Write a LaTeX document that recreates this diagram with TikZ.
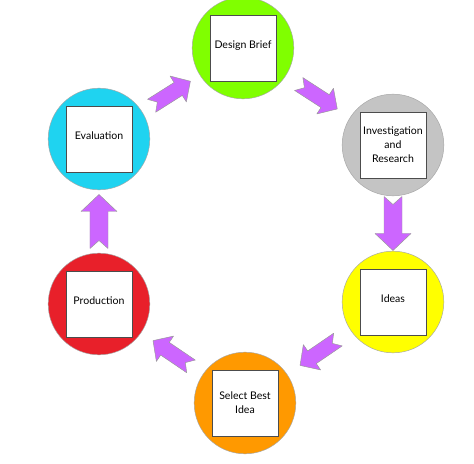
\documentclass[tikz,border=0pt]{standalone}
\usepackage{fontspec}
\setsansfont{Lato}
\usepackage{xcolor}
\usetikzlibrary{positioning, calc}

\definecolor{briefgreen}{HTML}{80FF00}
\definecolor{investgrey}{HTML}{C4C4C4}
\definecolor{ideasyellow}{HTML}{FFFF00}
\definecolor{selectorange}{HTML}{FF9900}
\definecolor{prodred}{HTML}{E8202A}
\definecolor{evalcyan}{HTML}{1FD3F0}
\definecolor{arrowpurple}{HTML}{CC66FF}

\tikzset{
    stage/.style={circle, draw=gray!70, thin, minimum size=3.05cm, inner sep=0pt},
    stagebox/.style={draw=black!70, fill=white, minimum size=1.98cm, inner sep=1pt,
        align=center, font=\sffamily\small},
    cyclearrow/.pic={
        \draw[draw=gray!80, fill=arrowpurple, line join=round]
            (-0.81,0.27) -- (0.30,0.27) -- (0.30,0.54) -- (0.81,0)
            -- (0.30,-0.54) -- (0.30,-0.27) -- (-0.81,-0.27) -- (-0.57,0) -- cycle;
    }
}

% block arrow half way between two stages
\newcommand{\cyclestep}[3][1]{%
    \path let \p1=(#2), \p2=(#3), \n1={atan2(\y2-\y1,\x2-\x1)} in
        ($(#2)!0.5!(#3)$) pic[rotate=\n1, scale=#1] {cyclearrow};}

\begin{document}
\begin{tikzpicture}[on grid]
        \useasboundingbox (0,0) rectangle (14.22,-13.92);

        \node[stage, fill=briefgreen] (brief) at (7.29,-1.44) {};
        \node[stage, fill=investgrey, below right=2.91cm and 4.5cm of brief] (invest) {};
        \node[stage, fill=ideasyellow, below=4.71cm of invest] (ideas) {};
        \node[stage, fill=selectorange, below left=3.03cm and 4.44cm of ideas] (select) {};
        \node[stage, fill=prodred, above left=2.97cm and 4.38cm of select] (prod) {};
        \node[stage, fill=evalcyan, above=4.95cm of prod] (eval) {};

        \node[stagebox] (briefbox) at (brief) {\raisebox{5pt}{Design Brief}};
        \node[stagebox] (investbox) at (invest) {Investigation\\[1pt]and\\[1pt]Research};
        \node[stagebox] (ideasbox) at (ideas) {\raisebox{5pt}{Ideas}};
        \node[stagebox] (selectbox) at (select) {Select Best\\[1pt]Idea};
        \node[stagebox] (prodbox) at (prod) {\raisebox{5pt}{Production}};
        \node[stagebox] (evalbox) at (eval) {\raisebox{5pt}{Evaluation}};

        \cyclestep[0.85]{brief}{invest}
        \cyclestep{invest}{ideas}
        \cyclestep[0.85]{ideas}{select}
        \cyclestep[0.85]{select}{prod}
        \cyclestep{prod}{eval}
        \cyclestep[0.85]{eval}{brief}
\end{tikzpicture}
\end{document}
